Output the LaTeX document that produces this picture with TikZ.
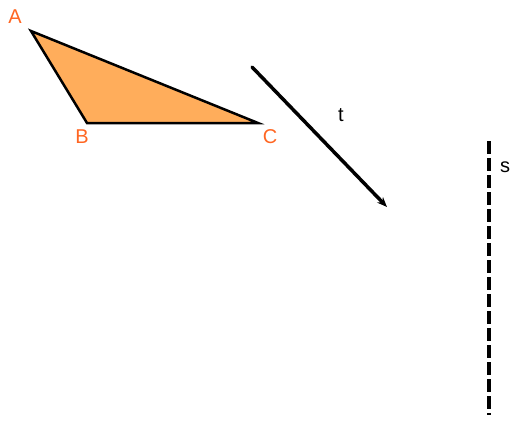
\documentclass[tikz,border=0pt]{standalone}
\usepackage{fontspec}
\setmainfont{Liberation Sans}
\usetikzlibrary{arrows.meta}
\definecolor{trifill}{RGB}{255,173,91}
\definecolor{lblorange}{RGB}{255,102,34}
\tikzset{
	ptlabel/.style={text=lblorange,font=\fontsize{20}{22}\selectfont},
	linelabel/.style={text=black,font=\fontsize{20}{22}\selectfont}
}
\begin{document}
\begin{tikzpicture}[>={Stealth[length=10pt,width=8pt]},x=1pt,y=-1pt]
		\useasboundingbox (0,0) rectangle (520,424);
		\coordinate (A) at (31,31);
		\coordinate (B) at (87,123);
		\coordinate (C) at (258,123);
		\filldraw[fill=trifill,draw=black,line width=2.5pt,line join=miter](A)--(B)--(C)--cycle;
		\draw(A) node[ptlabel] at (15,17) {A}
		(B) node[ptlabel] at (82,137) {B}
		(C) node[ptlabel] at (270,137) {C};
		% vector t
		\coordinate (t1) at (252,67);
		\coordinate (t2) at (387,207);
		\draw[->,line width=3.5pt,line cap=round](t1)--(t2);
		\node[linelabel] (tlbl) at (341,115) {t};
		% line s
		\coordinate (s1) at (489,141);
		\coordinate (s2) at (489,415);
		\draw[line width=3.5pt,dash pattern=on 13pt off 4pt](s1)--(s2);
		\node[linelabel] (slbl) at (505,167) {s};
	\end{tikzpicture}
\end{document}
